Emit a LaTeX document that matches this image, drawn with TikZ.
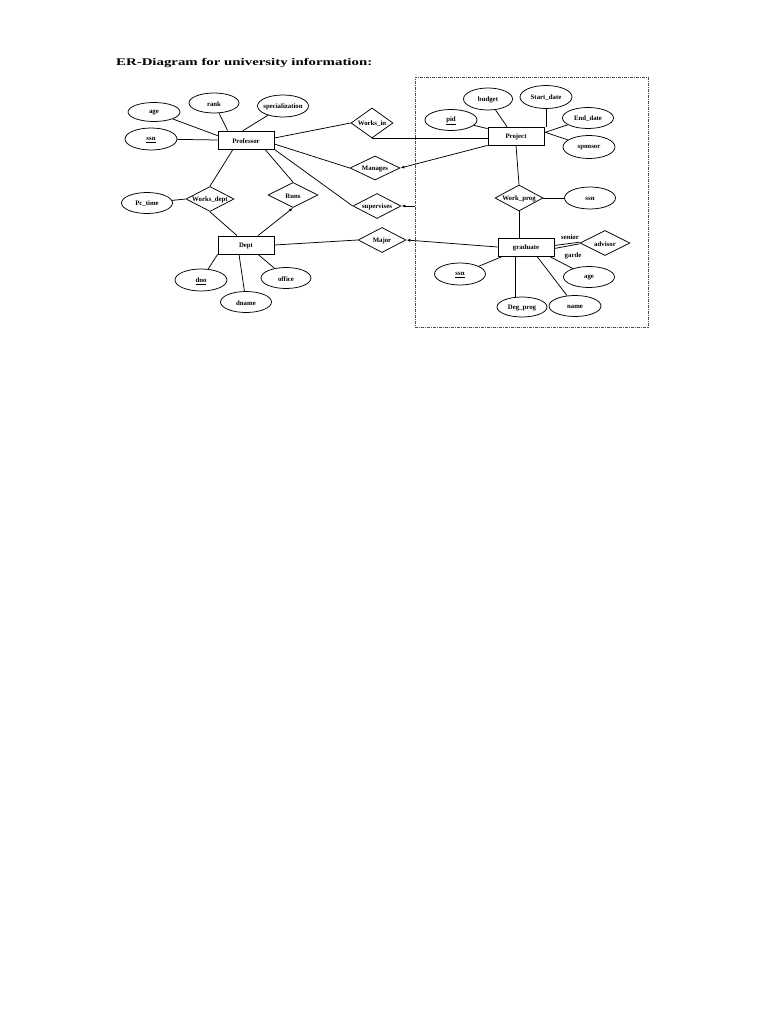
\documentclass[tikz,border=0pt]{standalone}
\usepackage{fontspec}
\setmainfont{Liberation Serif}
\usetikzlibrary{shapes.geometric,arrows.meta}
\begin{document}
\begin{tikzpicture}[x=1pt,y=-1pt,
  every node/.style={font=\fontsize{6.8}{8}\selectfont\bfseries},
  every label/.style={yshift=-1pt},
  base/.style={draw, line width=0.75pt, inner sep=0pt},
  attr/.style={base, ellipse, minimum width=51, minimum height=21},
  ent/.style={base, rectangle, minimum width=56, minimum height=18},
  rel/.style={base, diamond, minimum width=48, minimum height=25},
  ln/.style={line width=0.75pt},
  arr/.style={line width=0.75pt, -{Latex[length=4pt,width=3pt]}}]
\useasboundingbox (0,0) rectangle (768,1024);
\fill[white] (0,0) rectangle (768,1024);

% title
\node[anchor=west, inner sep=0pt] (title) at (116,63)
  {\resizebox{256pt}{7.2pt}{\bfseries ER-Diagram for university information:}};

% aggregation box
\node[draw=black!70, line width=0.75pt, dash pattern=on 3pt off 1pt on 1pt off 1pt,
      minimum width=233, minimum height=250, inner sep=0pt] (agg) at (531.5,202) {};

% entities
\node[ent, label={center:Professor}] (prof) at (246,140) {};
\node[ent, label={center:Dept}] (dept) at (246,245) {};
\node[ent, label={center:Project}] (proj) at (516,136) {};
\node[ent, label={center:graduate}] (grad) at (526,247) {};

% relationships
\node[rel, minimum width=42, minimum height=30, label={center:Works\_in}] (wi) at (372,123) {};
\node[rel, minimum width=50, minimum height=24, label={center:Manages}] (man) at (375,168) {};
\node[rel, label={center:supervises}] (sup) at (377,206) {};
\node[rel, label={center:Major}] (maj) at (382,240) {};
\node[rel, label={center:Works\_dept}] (wd) at (210,199) {};
\node[rel, minimum width=50, label={center:Runs}] (runs) at (293,195) {};
\node[rel, minimum height=26, label={center:Work\_prog}] (wp) at (519,198) {};
\node[rel, minimum width=50, label={center:advisor}] (adv) at (605,243) {};

% professor attributes
\node[attr, minimum width=52, minimum height=19, label={center:age}] (page) at (154,112) {};
\node[attr, minimum width=50, minimum height=20, label={center:rank}] (prank) at (214,103) {};
\node[attr, minimum height=22, label={center:specialization}] (pspec) at (283,106) {};
\node[attr, minimum width=52, minimum height=22, label={center:\underline{ssn}}] (pssn) at (151,139) {};

% dept attributes
\node[attr, minimum width=51, label={center:Pc\_time}] (pct) at (147,203) {};
\node[attr, minimum width=52, minimum height=22, label={center:\underline{dno}}] (dno) at (201,280) {};
\node[attr, label={center:dname}] (dname) at (246,302) {};
\node[attr, minimum width=50, label={center:office}] (office) at (286,278) {};

% project attributes
\node[attr, minimum width=52, label={center:\underline{pid}}] (pid) at (451,120) {};
\node[attr, minimum width=49, minimum height=22, label={center:budget}] (budget) at (488,99) {};
\node[attr, minimum width=52, minimum height=23, label={center:Start\_date}] (sdate) at (546,97) {};
\node[attr, label={center:End\_date}] (edate) at (588,118) {};
\node[attr, minimum width=52, minimum height=23, label={center:sponsor}] (spon) at (589,147) {};

% work_prog / graduate attributes
\node[attr, minimum height=22, label={center:ssn}] (wssn) at (590,198) {};
\node[attr, minimum height=22, label={center:\underline{ssn}}] (gssn) at (460,274) {};
\node[attr, label={center:age}] (gage) at (589,277) {};
\node[attr, minimum width=50, minimum height=20, label={center:Deg\_prog}] (deg) at (522,307) {};
\node[attr, minimum width=52, label={center:name}] (gname) at (575,306) {};

\node[inner sep=0pt] (senior) at (570,237) {senior};
\node[inner sep=0pt] (garde) at (573,256) {garde};

% professor connections
\draw[ln] (page) -- ([yshift=-5pt]prof.north west);
\draw[ln] (prank) -- ([xshift=10pt]prof.north west);
\draw[ln] (pspec) -- ([xshift=-3pt]prof.north);
\draw[ln] (pssn) -- (prof.west);
\draw[ln] ([yshift=2pt]prof.east) -- (wi.west);
\draw[ln] (wi.south) -- (wi.south -| proj.west);
\draw[ln] ([yshift=-4pt]prof.east) -- (man.west);
\draw[ln] (prof.south east) -- (sup.west);
\draw[ln] ([xshift=-13pt]prof.south) -- (wd.north);
\draw[ln] ([xshift=19pt]prof.south) -- (runs.north);

% dept connections
\draw[ln] (pct) -- (wd.west);
\draw[ln] (wd.south) -- ([xshift=-9pt]dept.north);
\draw[arr] ([xshift=12pt]dept.north) -- (runs.south);
\draw[ln] (dept.south west) -- (dno);
\draw[ln] ([xshift=-7pt]dept.south) -- (dname);
\draw[ln] ([xshift=12pt]dept.south) -- (office);
\draw[ln] (dept.east) -- (maj.west);

% project connections
\draw[arr] (proj.south west) -- (man.east);
\draw[arr] (agg.west |- sup) -- (sup.east);
\draw[ln] (pid) -- ([yshift=-2pt]proj.north west);
\draw[ln] (budget) -- ([xshift=-9pt]proj.north);
\draw[ln] (sdate.south) -- (sdate.south |- proj.north);
\draw[ln] (edate) -- ([yshift=-6pt]proj.north east);
\draw[ln] (spon) -- ([yshift=4pt]proj.east);
\draw[ln] (proj.south) -- (wp.north);
\draw[ln] (wp.east) -- (wssn);
\draw[ln] (wp.south) -- (wp.south |- grad.north);

% graduate connections
\draw[arr] (grad.west) -- (maj.east);
\draw[ln] ([yshift=1.5pt]grad.east) -- ([yshift=0.8pt]adv.west);
\draw[ln] ([yshift=-1.5pt]grad.east) -- ([yshift=-0.8pt]adv.west);
\draw[ln] ([xshift=5pt]grad.south west) -- (gssn);
\path ([xshift=-11pt]grad.south) coordinate (gd);
\draw[ln] (gd) -- (gd |- deg.north);
\draw[ln] ([xshift=11pt]grad.south) -- (gname);
\draw[ln] ([xshift=-5pt]grad.south east) -- (gage);
\end{tikzpicture}
\end{document}
